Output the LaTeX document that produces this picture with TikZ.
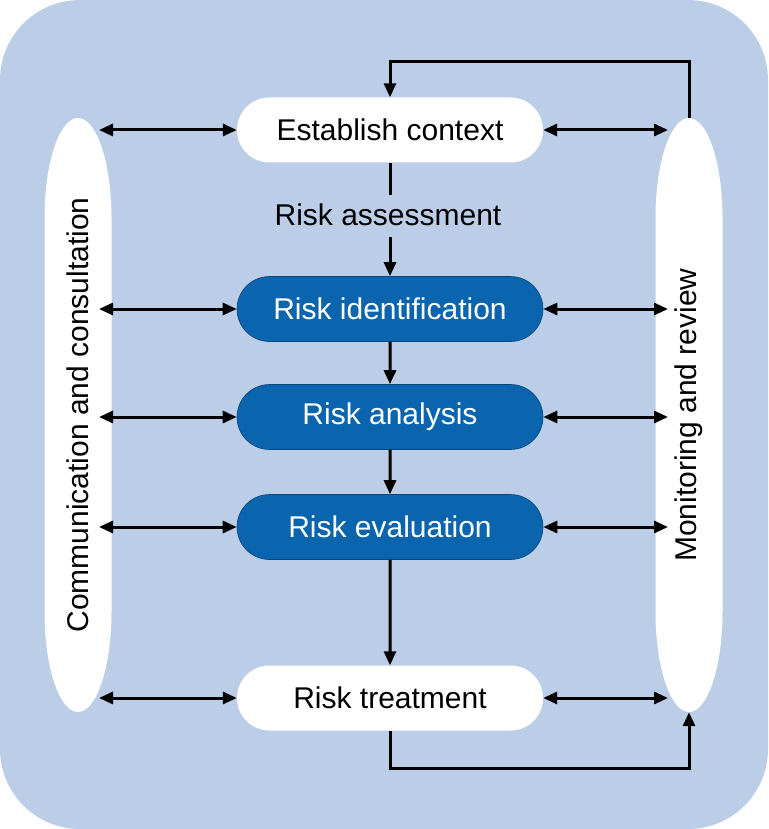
\documentclass[tikz,border=0pt]{standalone}
\usepackage{fontspec}
\setmainfont{Liberation Sans}
\usetikzlibrary{arrows.meta,shapes.misc,shapes.geometric}
\definecolor{bg}{HTML}{BCCDE8}
\definecolor{dk}{HTML}{0A64AE}
\begin{document}
\begin{tikzpicture}[x=1pt,y=-1pt,
  font=\fontsize{30}{36}\selectfont,
  box/.style={rounded rectangle,minimum width=306pt,minimum height=65pt,inner sep=0pt,fill=white},
  dbox/.style={box,fill=dk,draw=dk!70!black,line width=0.6pt,text=white},
  side/.style={rectangle,minimum width=67pt,minimum height=594pt,inner sep=0pt},
  arr/.style={line width=3pt,-{Triangle[length=14pt,width=12pt]}},
  darr/.style={line width=3pt,{Triangle[length=14pt,width=12pt]}-{Triangle[length=14pt,width=12pt]}},
  ln/.style={line width=3pt}]
\useasboundingbox (0,0) rectangle (768,829);
\fill[bg,rounded corners=80pt] (0,0) rectangle (768,829);
\foreach \cx in {78,689}{
  \fill[white] (\cx-33.5,612) -- (\cx-33.5,218)
    arc[start angle=180,end angle=360,x radius=33.5,y radius=100]
    -- (\cx+33.5,612)
    arc[start angle=0,end angle=180,x radius=33.5,y radius=100] -- cycle;
}
\node[side] (L) at (78,415) {};
\node[side] (R) at (689,415) {};
\node[rotate=90] at (L) {Communication and consultation};
\node[rotate=90] at (R) {Monitoring and review};
\node[box] (ec) at (390,130) {Establish context};
\node (ra) at (388,215) {Risk assessment};
\node[dbox] (ri) at (390,309) {Risk identification};
\node[dbox] (an) at (390,417) {Risk analysis};
\node[dbox] (ev) at (390,527) {Risk evaluation};
\node[box] (rt) at (390,698) {Risk treatment};
\draw[ln] (ec.south) -- (390,195);
\draw[arr] (390,237) -- (ri.north);
\draw[arr] (ri) -- (an);
\draw[arr] (an) -- (ev);
\draw[arr] (ev) -- (rt);
\foreach \n/\y in {ec/130,ri/309,an/417,ev/527,rt/698}{
  \draw[darr] (99,\y) -- (\n.west);
  \draw[darr] (\n.east) -- (668,\y);
}
\draw[arr] (R.north) -- (689,62) -- (390,62) -- (ec.north);
\draw[arr] (rt.south) -- (390,768) -- (689,768) -- (R.south);
\end{tikzpicture}
\end{document}
